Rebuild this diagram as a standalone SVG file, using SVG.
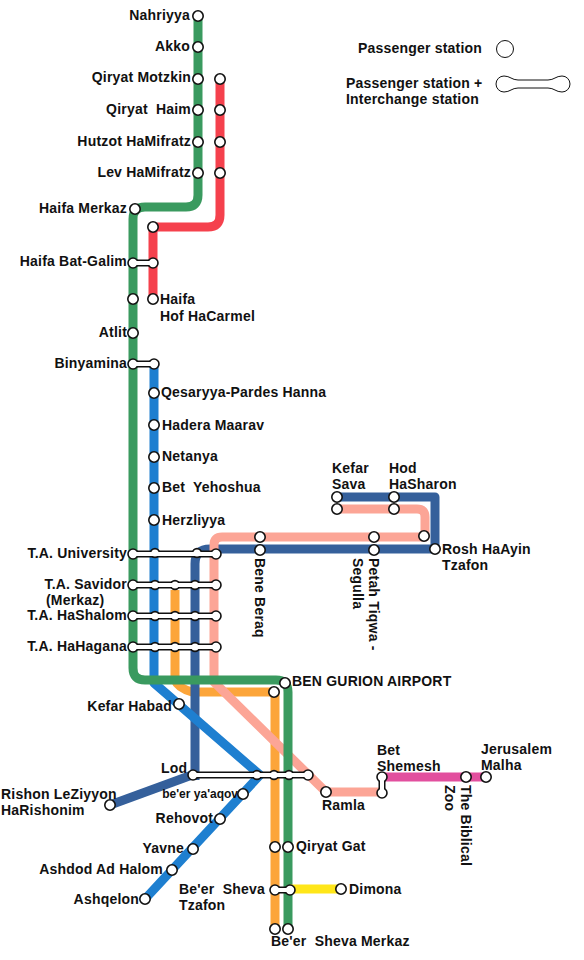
<svg xmlns="http://www.w3.org/2000/svg" width="584" height="960" viewBox="0 0 584 960">
<style>
.l{fill:none;stroke-width:9;stroke-linejoin:round}
.g{stroke:#3a9a5f}.r{stroke:#f5414d}.b{stroke:#1e7fd0}.o{stroke:#fca53a}.d{stroke:#35609b}.s{stroke:#fca596}.p{stroke:#e24f9e}.y{stroke:#ffe619}
circle{fill:#fff;stroke:#111;stroke-width:1.6}
.c0{fill:none;stroke:#111;stroke-width:7;stroke-linecap:round}
.c1{fill:none;stroke:#fff;stroke-width:4;stroke-linecap:round}
text{font-family:"Liberation Sans",Arial,sans-serif;font-weight:700;font-size:14px;letter-spacing:.2px;fill:#111}
.e{text-anchor:end}
</style>
<rect width="584" height="960" fill="#fff"/>
<g id="connectors">
<path class="l o" d="M175 590V680Q178 688 192 692H275V928"/>
<path class="l d" d="M195 780V564Q195 549 210 549H435V497H337"/>
<path class="l d" d="M192 775L110 805"/>
<path class="l b" d="M154 364V683L260 775L145 899"/>
<path class="l s" d="M214 560V545Q214 537 222 537H425V517Q425 509 417 509H337M214 555V682L326 792H382"/>
<path class="l g" d="M198 16V195Q198 207 186 207H145Q133 207 133 219V668Q133 680 145 680H276Q288 680 288 692V928"/>
<path class="l r" d="M220 79V215Q220 227 208 227H153V299"/>
<path class="l p" d="M382 777H486"/>
<path class="l y" d="M290 889H341"/>
</g>
<g id="legend">
<text x="358" y="53">Passenger station</text>
<text x="346" y="88">Passenger station +</text>
<text x="346" y="104">Interchange station</text>
<circle cx="505" cy="49" r="8.5" style="stroke-width:1"/>
<path d="M504 76C510 76 512 80 518 80H548C554 80 556 76 562 76A8 8 0 0 1 562 92C556 92 554 88 548 88H518C512 88 510 92 504 92A8 8 0 0 1 504 76Z" fill="#fff" stroke="#111"/>
</g>
<g id="nahriyya"><circle cx="198" cy="16" r="5.2"/><text class="e" x="190" y="20">Nahriyya</text></g>
<g id="akko"><circle cx="198" cy="47" r="5.2"/><text class="e" x="190" y="51">Akko</text></g>
<g id="motzkin"><circle cx="198" cy="79" r="5.2"/><circle cx="220" cy="79" r="5.2"/><text class="e" x="191" y="82">Qiryat Motzkin</text></g>
<g id="haim"><circle cx="198" cy="110" r="5.2"/><circle cx="220" cy="110" r="5.2"/><text class="e" x="191" y="114" xml:space="preserve">Qiryat  Haim</text></g>
<g id="hutzot"><circle cx="198" cy="142" r="5.2"/><circle cx="220" cy="142" r="5.2"/><text class="e" x="191" y="146">Hutzot HaMifratz</text></g>
<g id="lev"><circle cx="198" cy="173" r="5.2"/><circle cx="220" cy="173" r="5.2"/><text class="e" x="191" y="177">Lev HaMifratz</text></g>
<g id="haifa-merkaz"><circle cx="135" cy="209" r="5.2"/><text class="e" x="127" y="213">Haifa Merkaz</text></g>
<g id="red-top"><circle cx="153" cy="227" r="5.2"/></g>
<g id="bat-galim"><path class="c0" d="M133 263H153"/><circle cx="133" cy="263" r="5"/><circle cx="153" cy="263" r="5"/><path class="c1" d="M133 263H153"/><text class="e" x="127" y="266">Haifa Bat-Galim</text></g>
<g id="green-299"><circle cx="133" cy="299" r="5.2"/></g>
<g id="hof-hacarmel"><circle cx="153" cy="299" r="5.2"/><text x="160" y="304">Haifa</text><text x="160" y="321">Hof HaCarmel</text></g>
<g id="atlit"><circle cx="133" cy="333" r="5.2"/><text class="e" x="127" y="337">Atlit</text></g>
<g id="binyamina"><path class="c0" d="M133 364H154"/><circle cx="133" cy="364" r="5"/><circle cx="154" cy="364" r="5"/><path class="c1" d="M133 364H154"/><text class="e" x="127" y="368">Binyamina</text></g>
<g id="qesaryya"><circle cx="154" cy="393" r="5.2"/><text x="161" y="397">Qesaryya-Pardes Hanna</text></g>
<g id="hadera"><circle cx="154" cy="425" r="5.2"/><text x="162" y="430">Hadera Maarav</text></g>
<g id="netanya"><circle cx="154" cy="457" r="5.2"/><text x="162" y="461">Netanya</text></g>
<g id="bet-yehoshua"><circle cx="154" cy="488" r="5.2"/><text x="162" y="492" xml:space="preserve">Bet  Yehoshua</text></g>
<g id="herzliyya"><circle cx="154" cy="520" r="5.2"/><text x="162" y="525">Herzliyya</text></g>
<g id="ta-university"><path class="c0" d="M133 554H216"/><circle cx="133" cy="554" r="5"/><circle cx="155" cy="553" r="4.4"/><circle cx="197" cy="553" r="4.4"/><circle cx="216" cy="554" r="5"/><path class="c1" d="M133 554H216"/><text class="e" x="127" y="558">T.A. University</text></g>
<g id="ta-savidor"><path class="c0" d="M133 585H216"/><circle cx="133" cy="585" r="5"/><circle cx="155" cy="585" r="4.4"/><circle cx="175" cy="585" r="4.4"/><circle cx="195" cy="585" r="4.4"/><circle cx="216" cy="585" r="5"/><path class="c1" d="M133 585H216"/><text class="e" x="127" y="589">T.A. Savidor</text><text x="46" y="605">(Merkaz)</text></g>
<g id="ta-hashalom"><path class="c0" d="M133 616H216"/><circle cx="133" cy="616" r="5"/><circle cx="155" cy="616" r="4.4"/><circle cx="175" cy="616" r="4.4"/><circle cx="195" cy="616" r="4.4"/><circle cx="216" cy="616" r="5"/><path class="c1" d="M133 616H216"/><text class="e" x="127" y="620">T.A. HaShalom</text></g>
<g id="ta-hahagana"><path class="c0" d="M133 647H216"/><circle cx="133" cy="647" r="5"/><circle cx="155" cy="647" r="4.4"/><circle cx="175" cy="647" r="4.4"/><circle cx="195" cy="647" r="4.4"/><circle cx="216" cy="647" r="5"/><path class="c1" d="M133 647H216"/><text class="e" x="127" y="651">T.A. HaHagana</text></g>
<g id="bene-beraq"><circle cx="260" cy="537" r="5.2"/><circle cx="260" cy="550" r="5.2"/><text transform="translate(255 558) rotate(90)">Bene Beraq</text></g>
<g id="petah-tiqwa"><circle cx="374" cy="537" r="5.2"/><circle cx="374" cy="550" r="5.2"/><text transform="translate(369 558) rotate(90)">Petah Tiqwa -</text><text transform="translate(353 558) rotate(90)">Segulla</text></g>
<g id="salmon-end"><circle cx="424" cy="536" r="5.2"/></g>
<g id="rosh-haayin"><circle cx="435" cy="549" r="5.2"/><text x="442" y="554">Rosh HaAyin</text><text x="442" y="570">Tzafon</text></g>
<g id="kefar-sava"><circle cx="337" cy="497" r="5.2"/><circle cx="337" cy="509" r="5.2"/><text x="332" y="473">Kefar</text><text x="332" y="489">Sava</text></g>
<g id="hod-hasharon"><circle cx="394" cy="497" r="5.2"/><circle cx="394" cy="509" r="5.2"/><text x="389" y="473">Hod</text><text x="389" y="489">HaSharon</text></g>
<g id="ben-gurion"><circle cx="285" cy="683" r="5.2"/><circle cx="274" cy="692" r="5.2"/><text x="292" y="686">BEN GURION AIRPORT</text></g>
<g id="kefar-habad"><circle cx="179" cy="704" r="5.2"/><text class="e" x="172" y="711">Kefar Habad</text></g>
<g id="lod"><path class="c0" d="M193 775H308"/><circle cx="193" cy="775" r="5"/><circle cx="257" cy="775" r="4.4"/><circle cx="274" cy="775" r="4.4"/><circle cx="289" cy="775" r="4.4"/><circle cx="308" cy="775" r="5"/><path class="c1" d="M193 775H308"/><text x="161" y="773">Lod</text></g>
<g id="rishon"><circle cx="110" cy="805" r="5.2"/><text x="1" y="799">Rishon LeZiyyon</text><text x="1" y="815">HaRishonim</text></g>
<g id="beer-yaaqov"><circle cx="243" cy="794" r="5.2"/><text class="e" x="238" y="798" style="font-size:12px;letter-spacing:0">be'er ya'aqov</text></g>
<g id="rehovot"><circle cx="220" cy="819" r="5.2"/><text class="e" x="213" y="823">Rehovot</text></g>
<g id="yavne"><circle cx="193" cy="849" r="5.2"/><text class="e" x="184" y="853">Yavne</text></g>
<g id="ashdod"><circle cx="172" cy="870" r="5.2"/><text class="e" x="163" y="874">Ashdod Ad Halom</text></g>
<g id="ashqelon"><circle cx="145" cy="899" r="5.2"/><text class="e" x="139" y="904">Ashqelon</text></g>
<g id="qiryat-gat"><circle cx="275" cy="847" r="5.2"/><circle cx="288" cy="847" r="5.2"/><text x="296" y="851">Qiryat Gat</text></g>
<g id="beer-sheva-tzafon"><path class="c0" d="M275 890H290"/><circle cx="275" cy="890" r="5"/><circle cx="290" cy="890" r="5"/><path class="c1" d="M275 890H290"/><text x="179" y="894" xml:space="preserve">Be'er  Sheva</text><text x="179" y="910">Tzafon</text></g>
<g id="dimona"><circle cx="341" cy="889" r="5.2"/><text x="349" y="894">Dimona</text></g>
<g id="beer-sheva-merkaz"><circle cx="275" cy="929" r="5.2"/><circle cx="288" cy="929" r="5.2"/><text x="271" y="946" xml:space="preserve">Be'er  Sheva Merkaz</text></g>
<g id="ramla"><circle cx="326" cy="792" r="5.2"/><text x="322" y="810">Ramla</text></g>
<g id="bet-shemesh"><path class="c0" d="M382 777V792"/><circle cx="382" cy="777" r="5"/><circle cx="382" cy="793" r="5"/><path class="c1" d="M382 777V792"/><text x="377" y="755">Bet</text><text x="377" y="771">Shemesh</text></g>
<g id="biblical-zoo"><circle cx="466" cy="777" r="5.2"/><text transform="translate(461 785) rotate(90)">The Biblical</text><text transform="translate(445 785) rotate(90)">Zoo</text></g>
<g id="malha"><circle cx="486" cy="777" r="5.2"/><text x="481" y="754">Jerusalem</text><text x="481" y="770">Malha</text></g>
</svg>
